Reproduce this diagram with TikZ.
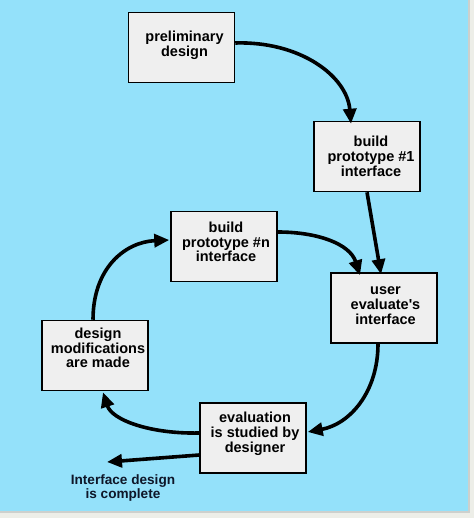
\documentclass[tikz,border=0pt]{standalone}
\usepackage{fontspec}
\setmainfont{Liberation Sans}
\usetikzlibrary{arrows.meta}
\definecolor{skyb}{RGB}{148,225,250}
\definecolor{boxfill}{RGB}{239,239,239}
\definecolor{outer}{RGB}{237,238,232}
\definecolor{edgeg}{RGB}{205,208,205}
\definecolor{labcol}{RGB}{14,22,40}
\begin{document}
\begin{tikzpicture}[x=1pt,y=-1pt,
  stagebox/.style={draw=black,line width=1.5pt,fill=boxfill,minimum width=106pt,minimum height=70pt,inner sep=0pt},
  stagetext/.style={align=center,font=\fontsize{14.5}{14.8}\selectfont\bfseries,inner sep=0pt},
  labtext/.style={align=center,font=\fontsize{13.6}{14.3}\selectfont\bfseries,text=labcol,inner sep=0pt},
  flow/.style={line width=3.6pt,-{Triangle[length=15pt,width=13pt]}}
]
\useasboundingbox (0,0) rectangle (474,518);
\fill[outer] (0,0) rectangle (474,518);
\fill[edgeg] (0,0) rectangle (470,513);
\fill[skyb] (0,0) rectangle (468,511);

\node[stagebox] (pd) at (181.5,47.5) {};
\node[stagebox] (p1) at (367,156.5) {};
\node[stagebox] (pn) at (224,246.5) {};
\node[stagebox] (ue) at (384,308) {};
\node[stagebox] (dm) at (95,355.5) {};
\node[stagebox] (ev) at (253,438) {};

\node[stagetext] (tpd) at ([xshift=3pt,yshift=2pt]pd.center) {preliminary\\design};
\node[stagetext] (tp1) at ([xshift=4pt,yshift=0pt]p1.center) {build\\prototype \#1\\interface};
\node[stagetext] (tpn) at ([xshift=2pt,yshift=4.5pt]pn.center) {build\\prototype \#n\\interface};
\node[stagetext] (tue) at ([xshift=1.5pt,yshift=2.5pt]ue.center) {user\\evaluate\textquotesingle s\\interface};
\node[stagetext] (tdm) at ([xshift=3pt,yshift=7.5pt]dm.center) {design\\modifications\\are made};
\node[stagetext] (tev) at ([xshift=2pt,yshift=4pt]ev.center) {evaluation\\is studied by\\designer};

\node[labtext] (done) at (123,488) {Interface design\\is complete};
\coordinate (doneend) at (107,462);

\draw[flow] ([yshift=4.5pt]pd.east) .. controls (300,41) and (347,76) .. ([xshift=-16pt,yshift=-3pt]p1.north);
\draw[flow] (p1.south) -- ([xshift=-3pt,yshift=-2pt]ue.north);
\draw[flow] ([yshift=14.5pt]pn.east) .. controls (318,232) and (350,244) .. ([xshift=-24pt,yshift=-3pt]ue.north);
\draw[flow] ([xshift=-6pt]ue.south) .. controls (378,392) and (350,424) .. ([xshift=1pt,yshift=6pt]ev.east);
\draw[flow] ([yshift=5pt]ev.west) .. controls (150,434) and (112,420) .. ([xshift=8pt,yshift=-1pt]dm.south);
\draw[flow] ([xshift=-2pt]dm.north) .. controls (93,268) and (125,242) .. ([xshift=-1pt,yshift=6.5pt]pn.west);
\draw[flow] ([yshift=-17pt]ev.west) -- (doneend);
\end{tikzpicture}
\end{document}
